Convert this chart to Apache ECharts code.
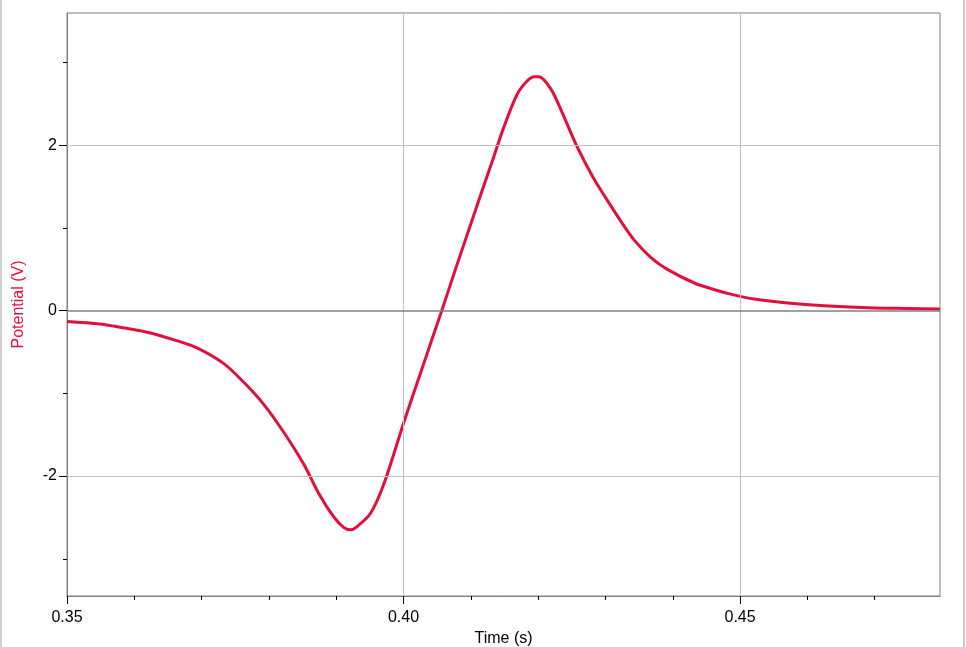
<!DOCTYPE html>
<html>
<head>
<meta charset="utf-8">
<script src="https://cdn.jsdelivr.net/npm/echarts@6/dist/echarts.min.js"></script>
<style>
html,body{margin:0;padding:0;background:#fff;}
#c{width:966px;height:647px;}
</style>
</head>
<body>
<div id="c"></div>
<script>
var time = [0.3500,0.3549,0.3579,0.3619,0.3658,0.3693,0.3733,0.3762,0.3792,0.3822,0.3852,0.3874,0.3896,0.3911,0.3921,0.3931,0.3951,0.3971,0.4000,0.4025,0.4045,0.4058,0.4075,0.4095,0.4115,0.4134,0.4149,0.4169,0.4184,0.4194,0.4201,0.4219,0.4236,0.4258,0.4281,0.4300,0.4323,0.4343,0.4368,0.4392,0.4432,0.4462,0.4489,0.4521,0.4571,0.4625,0.4700,0.4749,0.4797];
var potential = [-0.13,-0.16,-0.20,-0.26,-0.35,-0.45,-0.64,-0.86,-1.13,-1.47,-1.86,-2.21,-2.49,-2.62,-2.65,-2.61,-2.45,-2.09,-1.36,-0.76,-0.28,0.03,0.45,0.93,1.41,1.86,2.22,2.62,2.78,2.83,2.83,2.68,2.39,1.98,1.62,1.37,1.08,0.85,0.64,0.50,0.335,0.254,0.194,0.141,0.093,0.06,0.033,0.028,0.02];
var xMajorTicks = [0.35,0.40,0.45];
var xMinorTicks = [0.36,0.37,0.38,0.39,0.41,0.42,0.43,0.44,0.46,0.47];
var yMajorTicks = [-2,0,2];
var yMinorTicks = [-3,-1,1,3];
var xGrid = [0.40,0.45];
var yGrid = [-2,2];
var yZero = 0;

var X_MIN = 0.35, X_MAX = 0.4797, Y_MIN = -3.45, Y_MAX = 3.60;
var font = 'Liberation Sans, Arial, sans-serif';
var red = '#e0103c';

var chart = echarts.init(document.getElementById('c'), null, {renderer:'canvas'});
var data = time.map(function(t,i){return [t, potential[i]];});

var gridMarks = [];
xGrid.forEach(function(v){ gridMarks.push({xAxis:v, lineStyle:{color:'#c0c0c0', width:1, type:'solid'}}); });
yGrid.forEach(function(v){ gridMarks.push({yAxis:v, lineStyle:{color:'#c0c0c0', width:1, type:'solid'}}); });
gridMarks.push({yAxis:yZero, lineStyle:{color:'#808080', width:1.5, type:'solid'}});

chart.setOption({
  animation:false,
  backgroundColor:'#fff',
  grid:{left:67, right:26, top:13, bottom:51, show:true, borderColor:'#808080', borderWidth:1,
        containLabel:false, outerBoundsMode:'none'},
  xAxis:[
    {type:'value', min:X_MIN, max:X_MAX, position:'bottom', offset:0,
     name:'Time (s)', nameLocation:'middle', nameGap:34,
     nameTextStyle:{color:'#000', fontFamily:font, fontSize:16},
     axisLine:{show:true, onZero:false, lineStyle:{color:'#808080', width:1}},
     axisTick:{show:true, customValues:xMajorTicks, length:8, inside:false, lineStyle:{color:'#000', width:1}},
     axisLabel:{show:true, customValues:xMajorTicks, margin:14, color:'#000', fontFamily:font, fontSize:16,
       formatter:function(v){return v.toFixed(2);}},
     splitLine:{show:false}, minorTick:{show:false}},
    {type:'value', min:X_MIN, max:X_MAX, position:'bottom', offset:0, gridIndex:0,
     axisLine:{show:false, onZero:false},
     axisTick:{show:true, customValues:xMinorTicks, length:4, inside:false, lineStyle:{color:'#000', width:1}},
     axisLabel:{show:false}, splitLine:{show:false}}
  ],
  yAxis:[
    {type:'value', min:Y_MIN, max:Y_MAX, position:'left', offset:0,
     name:'Potential (V)', nameLocation:'middle', nameGap:40, nameRotate:90,
     nameTextStyle:{color:red, fontFamily:font, fontSize:16},
     axisLine:{show:true, onZero:false, lineStyle:{color:'#808080', width:1}},
     axisTick:{show:true, customValues:yMajorTicks, length:8, inside:false, lineStyle:{color:'#000', width:1}},
     axisLabel:{show:true, customValues:yMajorTicks, margin:10, color:'#000', fontFamily:font, fontSize:16},
     splitLine:{show:false}},
    {type:'value', min:Y_MIN, max:Y_MAX, position:'left', offset:0, gridIndex:0,
     axisLine:{show:false, onZero:false},
     axisTick:{show:true, customValues:yMinorTicks, length:4, inside:false, lineStyle:{color:'#000', width:1}},
     axisLabel:{show:false}, splitLine:{show:false}}
  ],
  series:[
    {type:'line', data:[], z:1, silent:true, xAxisIndex:0, yAxisIndex:0,
     markLine:{silent:true, symbol:['none','none'], label:{show:false}, animation:false, data:gridMarks}},
    {type:'line', data:data, z:3, xAxisIndex:0, yAxisIndex:0, showSymbol:false, symbol:'none',
     smooth:0.3, lineStyle:{color:red, width:3}, itemStyle:{color:red}}
  ],
  graphic:[
    {type:'rect', shape:{x:0, y:0, width:2, height:647}, style:{fill:'#d0d0d0'}, silent:true},
    {type:'rect', shape:{x:963, y:0, width:2, height:647}, style:{fill:'#c8c8c8'}, silent:true}
  ]
});
</script>
</body>
</html>
